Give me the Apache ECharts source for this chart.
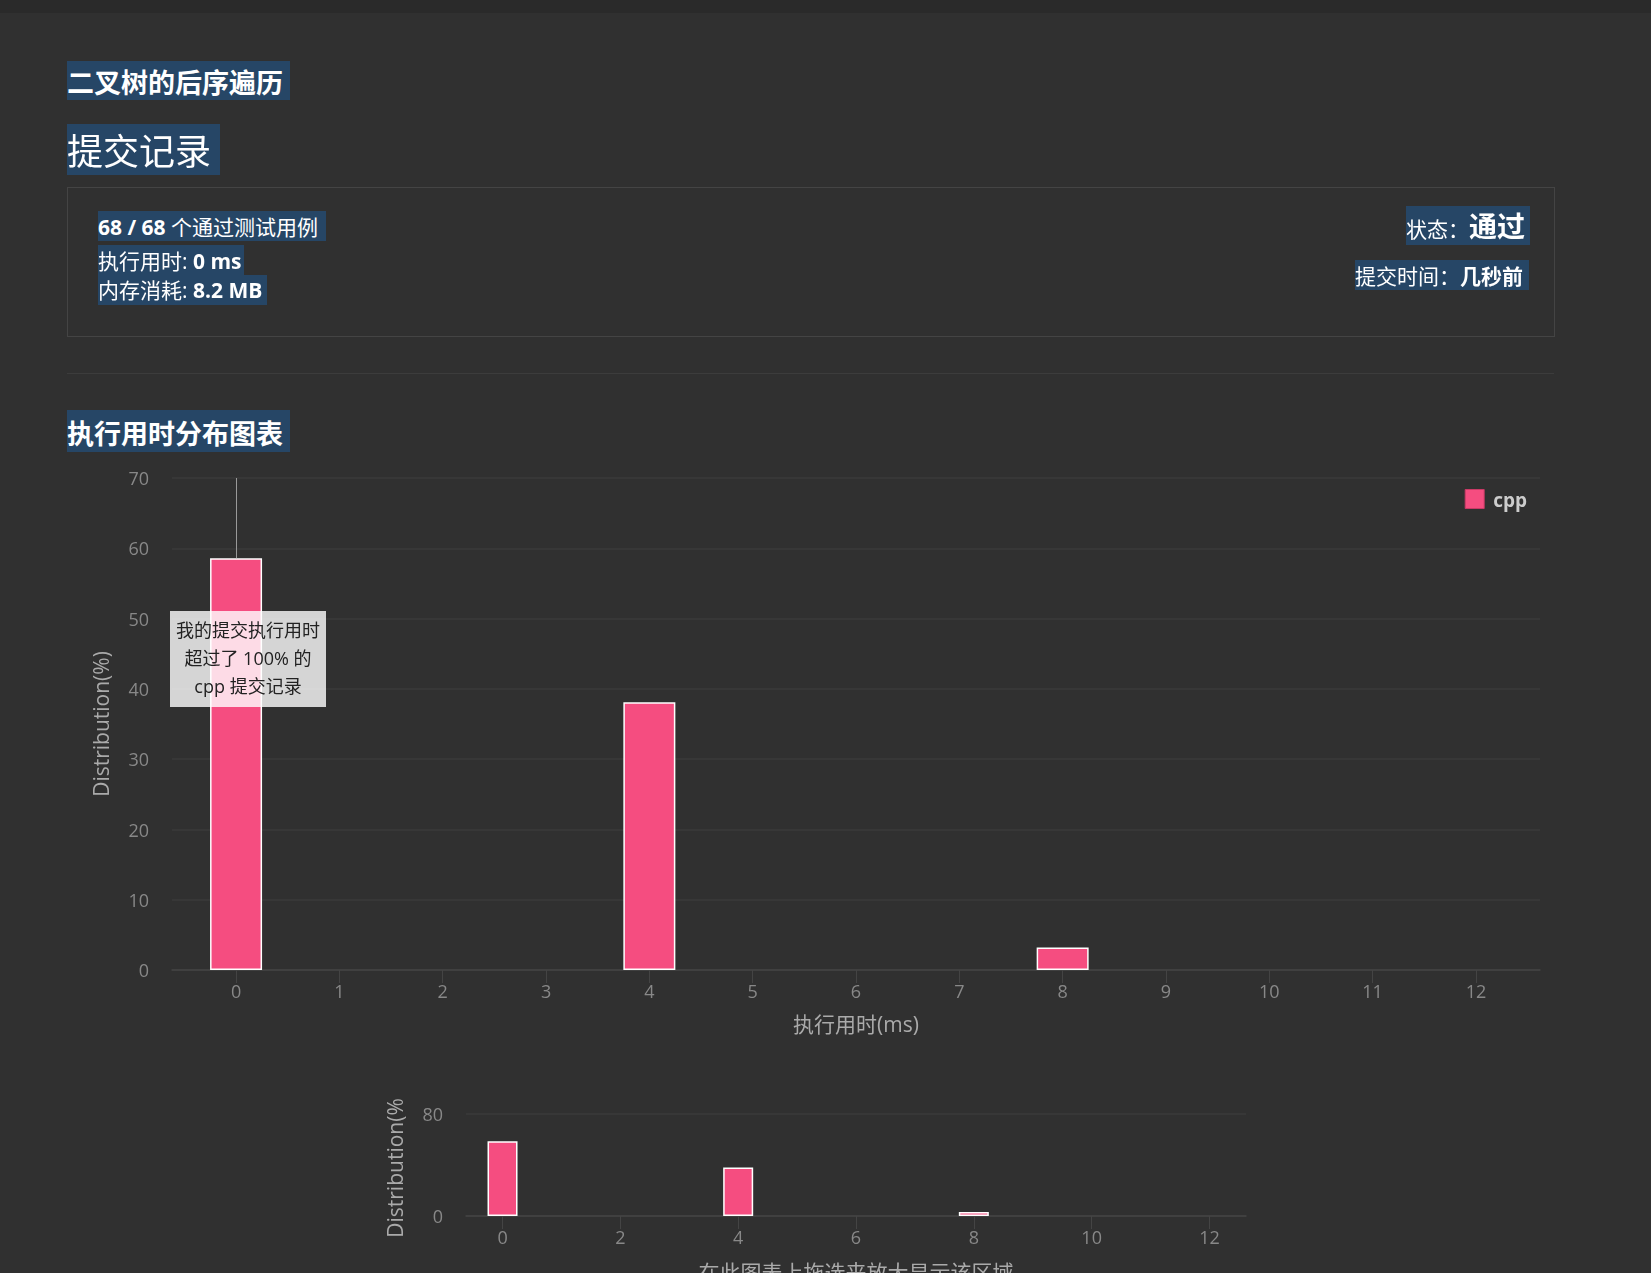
<!DOCTYPE html>
<html>
<head>
<meta charset="utf-8">
<title>执行用时分布图表</title>
<script src="https://cdn.jsdelivr.net/npm/echarts@6/dist/echarts.min.js"></script>
<style>
html,body{margin:0;padding:0;width:1651px;height:1273px;overflow:hidden;background:#303030;}
body{font-family:"Open Sans","Noto Sans CJK SC",sans-serif;color:#fff;position:relative;}
#topbar{position:absolute;left:0;top:0;width:1651px;height:13px;background:#2a2a2a;}
#main{position:absolute;left:0;top:0;width:1651px;height:1273px;}
.sel{position:absolute;background:#264666;white-space:nowrap;overflow:hidden;}
.sel b{font-weight:700;}
#box{position:absolute;left:67px;top:187px;width:1486px;height:148px;border:1px solid #444;}
#hr{position:absolute;left:67px;top:373px;width:1487px;height:1px;background:#3c3c3c;}
</style>
</head>
<body>
<div id="main"></div>
<div id="topbar"></div>
<div id="box"></div>
<div id="hr"></div>
<div class="sel" style="left:67px;top:61px;width:223px;height:39px;line-height:43px;font-size:27px;font-weight:700;">二叉树的后序遍历</div>
<div class="sel" style="left:67px;top:124px;width:153px;height:51px;line-height:55px;font-size:36px;">提交记录</div>
<div class="sel" style="left:98px;top:211px;width:228px;height:30px;line-height:32px;font-size:21px;"><b>68 / 68</b> 个通过测试用例</div>
<div class="sel" style="left:98px;top:245px;width:146px;height:30px;line-height:32px;font-size:21px;">执行用时: <b>0 ms</b></div>
<div class="sel" style="left:98px;top:275px;width:169px;height:30px;line-height:31px;font-size:21px;">内存消耗: <b>8.2 MB</b></div>
<div class="sel" style="left:1406px;top:206px;width:124px;height:39px;line-height:41px;font-size:21px;">状态：<b style="font-size:28px;">通过</b></div>
<div class="sel" style="left:1355px;top:260px;width:174px;height:30px;line-height:32px;font-size:21px;">提交时间：<b>几秒前</b></div>
<div class="sel" style="left:67px;top:410px;width:223px;height:42px;line-height:48px;font-size:27px;font-weight:700;">执行用时分布图表</div>
<script>
var fontName = '"Open Sans","Noto Sans CJK SC",sans-serif';
var seriesName = 'cpp';
var times = [0, 4, 8];
var distribution = [58.6, 38.1, 3.2];
var xTicks = [0,1,2,3,4,5,6,7,8,9,10,11,12];
var miniTicks = [0,2,4,6,8,10,12];
var myTime = 0;
var myDistribution = 58.6;
var tipText = '我的提交执行用时<br>超过了 100% 的<br>cpp 提交记录';

function barData(){
	var arr = [];
	for(var i=0;i<times.length;i++){
		arr.push([times[i], distribution[i]]);
	}
	return arr;
}

//横轴
function makeXAxis(gridIndex, ticks, name, nameGap, min, max){
	return {
		type: 'value',
		gridIndex: gridIndex,
		min: min,
		max: max,
		name: name,
		nameLocation: 'middle',
		nameGap: nameGap,
		nameMoveOverlap: false,
		nameTextStyle: {color: '#aaaaaa', fontSize: 21, fontFamily: fontName},
		splitLine: {show: false},
		axisLine: {lineStyle: {color: '#444444', width: 1.5}},
		axisTick: {show: true, length: 13, customValues: ticks, lineStyle: {color: '#444444'}},
		axisLabel: {customValues: ticks, color: '#888888', fontSize: 18, margin: 14, fontFamily: fontName}
	};
}

//纵轴
function makeYAxis(gridIndex, max, interval, name, nameGap, namePadding){
	return {
		type: 'value',
		gridIndex: gridIndex,
		min: 0,
		max: max,
		interval: interval,
		name: name,
		nameLocation: 'middle',
		nameGap: nameGap,
		nameMoveOverlap: false,
		nameTextStyle: {color: '#aaaaaa', fontSize: 21, fontFamily: fontName, padding: namePadding},
		axisLine: {show: false},
		axisTick: {show: false},
		splitLine: {lineStyle: {color: '#3a3a3a', width: 1.5}},
		axisLabel: {
			color: '#888888',
			fontSize: 18,
			margin: 23,
			fontFamily: fontName,
			formatter: '{t|{value}}',
			rich: {t: {color: '#888888', fontSize: 18, fontFamily: fontName, padding: [4, 0, 0, 0]}}
		}
	};
}

var chart = echarts.init(document.getElementById('main'));
var option = {
	animation: false,
	backgroundColor: 'transparent',
	legend: {
		data: [seriesName],
		right: 119,
		top: 484,
		itemWidth: 19,
		itemHeight: 19,
		icon: 'rect',
		itemGap: 10,
		itemStyle: {borderColor: '#c93a66', borderWidth: 1},
		formatter: '{n|{name}}',
		textStyle: {
			rich: {n: {color: '#cccccc', fontSize: 19, fontWeight: 'bold', fontFamily: fontName, padding: [5, 0, 0, 4]}}
		},
		selectedMode: false
	},
	tooltip: {
		trigger: 'item',
		alwaysShowContent: true,
		transitionDuration: 0,
		position: [170, 611],
		backgroundColor: 'rgba(255,255,255,0.8)',
		borderWidth: 0,
		padding: [6, 0],
		textStyle: {color: '#222222', fontSize: 18, fontFamily: fontName},
		extraCssText: 'width:156px;height:84px;text-align:center;line-height:27.8px;border-radius:0;box-shadow:none;',
		formatter: function(){ return tipText; }
	},
	grid: [
		{left: 172, top: 478, width: 1368, height: 492, outerBoundsMode: 'none'},
		{left: 466, top: 1114, width: 780, height: 102, outerBoundsMode: 'none'}
	],
	xAxis: [
		makeXAxis(0, xTicks, '执行用时(ms)', 46, -0.62, 12.62),
		makeXAxis(1, miniTicks, '在此图表上拖选来放大显示该区域', 48, -0.62, 12.62)
	],
	yAxis: [
		makeYAxis(0, 70, 10, 'Distribution(%)', 58, 0),
		makeYAxis(1, 80, 80, 'Distribution(%', 58, [0, 6, 0, 0])
	],
	series: [
		{
			name: seriesName,
			type: 'bar',
			xAxisIndex: 0,
			yAxisIndex: 0,
			barWidth: 52,
			data: barData(),
			itemStyle: {color: '#f54d80', borderColor: '#ffffff', borderWidth: 1.5},
			emphasis: {disabled: true},
			markLine: {
				silent: true,
				symbol: 'none',
				label: {show: false},
				lineStyle: {color: '#999999', width: 1, type: 'solid'},
				data: [[{coord: [myTime, myDistribution]}, {coord: [myTime, 70]}]]
			}
		},
		{
			name: seriesName,
			type: 'bar',
			xAxisIndex: 1,
			yAxisIndex: 1,
			barWidth: 30,
			data: barData(),
			silent: true,
			tooltip: {show: false},
			itemStyle: {color: '#f54d80', borderColor: '#ffffff', borderWidth: 1.5},
			emphasis: {disabled: true}
		}
	]
};
chart.setOption(option);
chart.dispatchAction({type: 'showTip', seriesIndex: 0, dataIndex: 0});
</script>
</body>
</html>
